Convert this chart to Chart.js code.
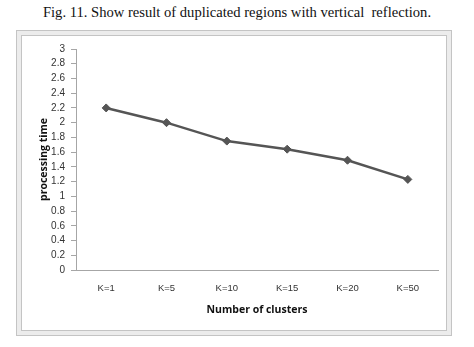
<!DOCTYPE html>
<html>
<head>
<meta charset="utf-8">
<script src="https://cdn.jsdelivr.net/npm/chart.js@4"></script>
<style>
    html, body { margin: 0; padding: 0; background: #fff; }
    body { width: 474px; height: 347px; position: relative; overflow: hidden; }
    #caption {
        position: absolute; left: 0; top: 4px; width: 474px; text-align: center;
        font-family: "Liberation Serif", "DejaVu Serif", serif; font-size: 14.6px; color: #111;
        white-space: pre;
    }
    #frame {
        position: absolute; left: 16px; top: 30px; width: 426px; height: 296px;
        border: 1px solid #c4c4c4; background: #ececec; padding: 4px;
    }
    #inner { width: 424px; height: 294px; border: 1px solid #c4c4c4; background: #fff; }
    #wrap { position: absolute; left: 0; top: 0; width: 474px; height: 347px; }
</style>
</head>
<body>
<div id="caption">Fig. 11. Show result of duplicated regions with vertical  reflection.</div>
<div id="frame"><div id="inner"></div></div>
<div id="wrap"><canvas id="chart"></canvas></div>
<script>
const clusters = ['K=1', 'K=5', 'K=10', 'K=15', 'K=20', 'K=50'];
const processingTime = [2.2, 2.0, 1.75, 1.64, 1.49, 1.23];
const yMin = 0;
const yMax = 3;
const yStep = 0.2;

const ctx = document.getElementById('chart').getContext('2d');
new Chart(ctx, {
    type: 'line',
    data: {
        labels: clusters,
        datasets: [{
            data: processingTime,
            borderColor: '#555555',
            backgroundColor: '#555555',
            borderWidth: 2.5,
            pointStyle: 'rectRot',
            pointRadius: 4,
            pointBorderWidth: 1,
            tension: 0
        }]
    },
    options: {
        responsive: true,
        maintainAspectRatio: false,
        animation: false,
        layout: { padding: { left: 0, top: 49, right: 36, bottom: 0 } },
        plugins: {
            legend: { display: false },
            tooltip: { enabled: false }
        },
        scales: {
            x: {
                offset: true,
                grid: { display: false, offset: true },
                border: { display: true, color: '#a6a6a6', width: 1 },
                ticks: {
                    color: '#333',
                    font: { family: 'Liberation Sans', size: 9.5 },
                    padding: 5,
                    maxRotation: 0
                },
                title: {
                    display: true,
                    text: 'Number of clusters',
                    color: '#111',
                    font: { family: 'Open Sans', size: 10.5, weight: 'bold' },
                    padding: { top: 4, bottom: 31 }
                },
                afterFit: (axis) => { axis.height = 77; }
            },
            y: {
                min: yMin,
                max: yMax,
                grid: { drawOnChartArea: false, drawTicks: true, tickLength: 5, color: '#a6a6a6' },
                border: { display: true, color: '#a6a6a6', width: 1 },
                ticks: {
                    stepSize: yStep,
                    autoSkip: false,
                    color: '#333',
                    font: { family: 'Liberation Sans', size: 10 },
                    padding: 6,
                    callback: (v) => String(+v.toFixed(1))
                },
                title: {
                    display: true,
                    text: 'processing time',
                    color: '#111',
                    font: { family: 'Open Sans', size: 10.5, weight: 'bold' },
                    padding: { top: 38, bottom: 0 }
                },
                afterFit: (axis) => { axis.width = 76; }
            }
        }
    }
});
</script>
</body>
</html>
